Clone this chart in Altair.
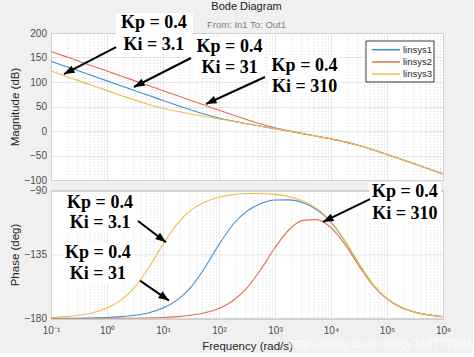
import math
import altair as alt
import pandas as pd

# ---------------- data ----------------
freq = [0.1, 0.178, 0.316, 0.562, 1, 1.78, 3.16, 5.62, 10, 17.8, 31.6, 56.2, 100, 178, 316, 562,
        1000, 1780, 3160, 5620, 10000, 17800, 31600, 56200, 100000, 178000, 316000, 562000, 1000000]
systems = ["linsys1", "linsys2", "linsys3"]

mag_linsys1 = [142.3, 132.3, 122.3, 112.3, 102.3, 92.3, 82.3, 72.4, 62.4, 52.6, 43.0, 34.2, 26.6, 20.3,
               14.8, 9.6, 4.6, -0.5, -5.5, -10.7, -16.1, -22.2, -29.6, -38.3, -47.8, -57.6, -67.5, -77.5, -87.5]
mag_linsys2 = [162.3, 152.3, 142.3, 132.3, 122.3, 112.3, 102.3, 92.3, 82.3, 72.3, 62.3, 52.4, 42.4, 32.6,
               23.0, 14.2, 6.6, 0.3, -5.3, -10.6, -16.1, -22.2, -29.6, -38.3, -47.8, -57.6, -67.5, -77.5, -87.5]
mag_linsys3 = [122.3, 112.3, 102.3, 92.4, 82.4, 72.6, 63.0, 54.2, 46.6, 40.3, 34.8, 29.6, 24.6, 19.6,
               14.6, 9.6, 4.5, -0.5, -5.5, -10.7, -16.1, -22.2, -29.6, -38.3, -47.8, -57.6, -67.5, -77.5, -87.5]

phase_linsys1 = [-179.9, -179.9, -179.8, -179.6, -179.3, -178.7, -177.7, -175.9, -172.7, -167.1, -157.9,
                 -144.1, -128.0, -113.9, -104.5, -99.1, -96.7, -96.6, -98.6, -103.5, -112.2, -125.7,
                 -141.8, -156.1, -166.0, -172.0, -175.5, -177.5, -178.6]
phase_linsys2 = [-180.0, -180.0, -180.0, -180.0, -179.9, -179.9, -179.8, -179.6, -179.3, -178.7, -177.7,
                 -176.0, -172.9, -167.5, -158.5, -145.3, -130.1, -117.6, -111.0, -110.5, -116.2, -127.9,
                 -143.1, -156.8, -166.4, -172.3, -175.6, -177.5, -178.6]
phase_linsys3 = [-179.3, -178.7, -177.7, -175.9, -172.7, -167.1, -157.8, -144.0, -127.8, -113.6, -103.8,
                 -98.0, -94.7, -92.9, -92.1, -92.1, -92.7, -94.3, -97.4, -102.8, -111.8, -125.4,
                 -141.7, -156.0, -166.0, -172.0, -175.5, -177.5, -178.6]

decades = [0.1, 1, 10, 100, 1000, 10000, 100000, 1000000]
mag_ticks = [-100, -50, 0, 50, 100, 150, 200]
phase_ticks = [-180, -135, -90]

# annotations (data coordinates)
mag_note_text = ["Kp = 0.4", "Ki = 3.1", "Kp = 0.4", "Ki = 31", "Kp = 0.4", "Ki = 310"]
mag_note_freq = [6.9, 6.9, 154, 154, 3365, 3365]
mag_note_db = [220.4, 176.5, 171.4, 128.6, 132.7, 89.8]
mag_box_f1 = [1.45, 35.8, 782]
mag_box_f2 = [34.4, 662, 14490]
mag_box_v1 = [240.8, 191.8, 153]
mag_box_v2 = [155.1, 110.2, 71.4]
mag_arrow_f1 = [1.45, 31.6, 662]
mag_arrow_v1 = [171.4, 149, 110.2]
mag_arrow_f2 = [0.1706, 3.03, 58.6]
mag_arrow_v2 = [116.3, 89.8, 55.1]

ph_note_text = ["Kp = 0.4", "Ki = 3.1", "Kp = 0.4", "Ki = 31", "Kp = 0.4", "Ki = 310"]
ph_note_freq = [0.75, 0.75, 0.69, 0.69, 2.09e5, 2.09e5]
ph_note_deg = [-98.75, -112.8, -134.1, -148.5, -91.05, -106.5]
ph_box_f1 = [0.178, 0.164, 47750]
ph_box_f2 = [3.16, 3.03, 9.2e5]
ph_box_v1 = [-91.75, -127.5, -84.05]
ph_box_v2 = [-119.1, -155.5, -112.8]
ph_arrow_f1 = [3.58, 3.88, 49660]
ph_arrow_v1 = [-111.4, -153.4, -96.0]
ph_arrow_f2 = [11.3, 12.8, 7194]
ph_arrow_v2 = [-126.4, -167.4, -112.1]

colors = ["#3d8fd0", "#e0704e", "#efbe48"]

# ---------------- layout constants ----------------
W, H1, H2 = 392, 147, 128
XDOM = [0.1, 1e6]
MAGDOM = [-100, 200]
PHDOM = [-180, -90]
FONT = "Liberation Sans"
SERIF = "Liberation Serif"

rows = []
for name, mg, ph in zip(systems, [mag_linsys1, mag_linsys2, mag_linsys3],
                        [phase_linsys1, phase_linsys2, phase_linsys3]):
    for f, m, p in zip(freq, mg, ph):
        rows.append({"freq": f, "val": m, "system": name, "panel": "mag"})
        rows.append({"freq": f, "val": p, "system": name, "panel": "phase"})
df = pd.DataFrame(rows)
df_mag = df[df.panel == "mag"]
df_ph = df[df.panel == "phase"]

minor_df = pd.DataFrame({"freq": [m * d for d in decades[:-1] for m in range(2, 10)]})


def px(f):
    return W * (math.log10(f) + 1) / 7


def arrow_df(f1, v1, f2, v2, dom, H):
    out = []
    for a, b, c, d in zip(f1, v1, f2, v2):
        dx = px(c) - px(a)
        dy = H * (dom[1] - d) / (dom[1] - dom[0]) - H * (dom[1] - b) / (dom[1] - dom[0])
        ang = math.degrees(math.atan2(dx, -dy)) % 360
        out.append({"freq": a, "val": b, "freq2": c, "val2": d, "angle": ang})
    return pd.DataFrame(out)


color = alt.Color("system:N", scale=alt.Scale(domain=systems, range=colors), legend=None)
xscale = alt.Scale(type="log", domain=XDOM, nice=False)


def panel(data, dom, ticks, H, ytitle, bottom, note_text, note_f, note_v,
          box_f1, box_f2, box_v1, box_v2, arr, extra=None):
    if bottom:
        xaxis = alt.Axis(values=decades, title="Frequency  (rad/s)", labelFlush=False,
                         labelExpr="'10' + ['⁻¹','⁰','¹','²','³','⁴','⁵','⁶'][round(log(datum.value)/LN10)+1]",
                         labelPadding=7, titlePadding=5, labelOverlap=False)
    else:
        xaxis = alt.Axis(values=decades, labels=False, title=None)
    yaxis = alt.Axis(values=ticks, title=ytitle, labelPadding=4.5, titlePadding=3.5)
    yscale = alt.Scale(domain=dom, nice=False)
    X = alt.X("freq:Q", scale=xscale, axis=xaxis)
    Y = alt.Y("val:Q", scale=yscale, axis=yaxis)
    minor = alt.Chart(minor_df).mark_rule(strokeDash=[1, 2], color="#cfcfcf", strokeWidth=0.8).encode(x=X)
    boxes = alt.Chart(pd.DataFrame({"freq": box_f1, "freq2": box_f2, "val": box_v1, "val2": box_v2})).mark_rect(
        color="white", clip=False).encode(x=X, x2="freq2:Q", y=Y, y2="val2:Q")
    lines = alt.Chart(data).mark_line(strokeWidth=1.1, interpolate="monotone", clip=True).encode(
        x=X, y=Y, color=color)
    notes = alt.Chart(pd.DataFrame({"freq": note_f, "val": note_v, "label": note_text})).mark_text(
        font=SERIF, fontWeight="bold", fontSize=18, color="black", align="center", baseline="middle"
    ).encode(x=X, y=Y, text="label:N")
    rules = alt.Chart(arr).mark_rule(color="black", strokeWidth=2).encode(
        x=X, y=Y, x2="freq2:Q", y2="val2:Q")
    heads = alt.Chart(arr).mark_point(shape="M0,0L-0.38,1L0.38,1Z", filled=True, size=441,
                                      color="black", opacity=1, strokeWidth=0).encode(
        x=alt.X("freq2:Q", scale=xscale, axis=xaxis),
        y=alt.Y("val2:Q", scale=yscale, axis=yaxis),
        angle=alt.Angle("angle:Q", scale=None))
    layers = [minor, boxes, lines, notes, rules, heads]
    if extra is not None:
        layers += extra
    return alt.layer(*layers).properties(width=W, height=H)


one = pd.DataFrame({"t": [""]})
title_txt = alt.Chart(pd.DataFrame({"t": ["Bode Diagram"]})).mark_text(
    font=FONT, fontSize=11, color="#1a1a1a", align="center", baseline="middle"
).encode(text="t:N", x=alt.value(195.5), y=alt.value(-26))
sub_txt = alt.Chart(pd.DataFrame({"t": ["From: In1  To: Out1"]})).mark_text(
    font=FONT, fontSize=9.5, color="#808080", align="center", baseline="middle"
).encode(text="t:N", x=alt.value(195.5), y=alt.value(-8))
wm_txt = alt.Chart(pd.DataFrame({"t": ["https://blog.csdn.net/cy243772901"]})).mark_text(
    font=FONT, fontSize=12, color="#ffffff", opacity=0.8, align="center", baseline="middle"
).encode(text="t:N", x=alt.value(330), y=alt.value(153.5))

# manual legend box (top-right inside the magnitude panel)
legend_layers = [
    alt.Chart(one).mark_rect(fill="white", stroke="#3a3a3a", strokeWidth=1).encode(
        x=alt.value(315), x2=alt.value(383), y=alt.value(8), y2=alt.value(49))
]
for i, (s, c) in enumerate(zip(systems, colors)):
    ry = 16.7 + 12.2 * i
    legend_layers.append(alt.Chart(one).mark_rule(color=c, strokeWidth=1.5).encode(
        x=alt.value(321), x2=alt.value(349), y=alt.value(ry)))
    legend_layers.append(alt.Chart(pd.DataFrame({"t": [s]})).mark_text(
        font=FONT, fontSize=9.5, color="#262626", align="left", baseline="middle"
    ).encode(text="t:N", x=alt.value(352), y=alt.value(ry)))

p1 = panel(df_mag, MAGDOM, mag_ticks, H1, "Magnitude (dB)", False, mag_note_text, mag_note_freq, mag_note_db,
           mag_box_f1, mag_box_f2, mag_box_v1, mag_box_v2,
           arrow_df(mag_arrow_f1, mag_arrow_v1, mag_arrow_f2, mag_arrow_v2, MAGDOM, H1),
           extra=[title_txt, sub_txt] + legend_layers)
p2 = panel(df_ph, PHDOM, phase_ticks, H2, "Phase (deg)", True, ph_note_text, ph_note_freq, ph_note_deg,
           ph_box_f1, ph_box_f2, ph_box_v1, ph_box_v2,
           arrow_df(ph_arrow_f1, ph_arrow_v1, ph_arrow_f2, ph_arrow_v2, PHDOM, H2),
           extra=[wm_txt])

chart = alt.vconcat(p1, p2, spacing=10.5, bounds="flush").properties(
    background="#f0f0f0",
    padding={"left": 8, "top": 0, "right": 0, "bottom": 0},
).configure_view(fill="white", stroke="#9a9a9a", strokeWidth=1).configure_axis(
    gridColor="#dedede", gridWidth=0.8, domain=False, ticks=False,
    labelFont=FONT, labelFontSize=10, labelColor="#4d4d4d",
    titleFont=FONT, titleFontSize=11.5, titleColor="#262626", titleFontWeight="normal",
)

chart.save("out.html", embed_options={"renderer": "svg", "actions": False})
